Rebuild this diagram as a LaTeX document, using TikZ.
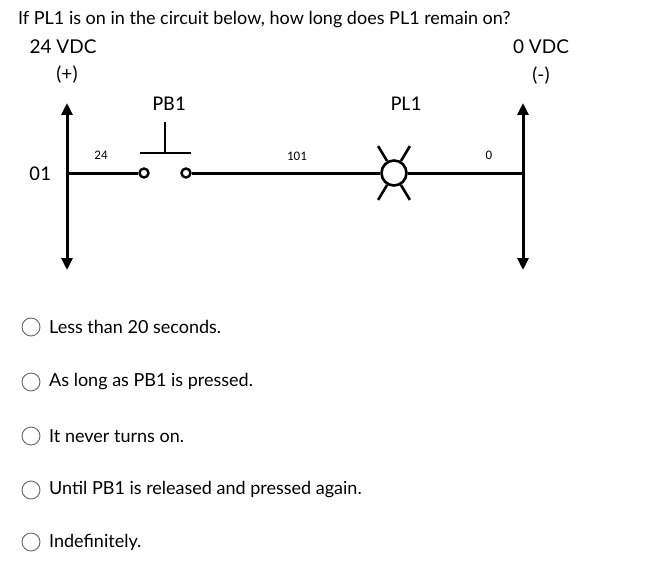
\documentclass[tikz,border=0pt]{standalone}
\usepackage{fontspec}
\usetikzlibrary{arrows.meta}
\setmainfont{Lato}
\newfontfamily\carfont{Carlito}
\tikzset{
 lbl/.style={font=\carfont\fontsize{21}{24}\selectfont, inner sep=0},
 hlbl/.style={font=\fontsize{19}{22}\selectfont, inner sep=0},
 wlbl/.style={font=\carfont\fontsize{13}{15}\selectfont, inner sep=0},
 txt/.style={font=\fontsize{18}{21}\selectfont, anchor=west, inner sep=0},
 radio/.style={circle, draw=black!60, line width=0.9pt, minimum size=18pt, inner sep=0},
 wire/.style={line width=3pt},
 rail/.style={line width=3pt, {Triangle[length=12pt,width=11pt]}-{Triangle[length=12pt,width=11pt]}},
 term/.style={circle, draw, line width=2.4pt, fill=white, minimum size=9pt, inner sep=0},
 sym/.style={line width=2.6pt},
}
\begin{document}
\begin{tikzpicture}[x=1pt,y=-1pt]
\useasboundingbox (0,0) rectangle (668,564);
\node[txt] (q) at (18,20) {If PL1 is on in the circuit below, how long does PL1 remain on?};
\node[hlbl] (v24) at (63,47) {24 VDC};
\node[hlbl] (pl) at (67,75) {(+)};
\node[hlbl] (v0) at (541,47) {0 VDC};
\node[hlbl] (mi) at (541,76) {(-)};
\coordinate (lt) at (67,103); \coordinate (lb) at (67,270);
\coordinate (rt) at (523,103); \coordinate (rb) at (523,270);
\draw[rail] (lb) -- (lt);
\draw[rail] (rb) -- (rt);
\coordinate (l) at (67,173); \coordinate (r) at (523,173);
\node[term] (s1) at (144,173) {};
\node[term] (s2) at (186,173) {};
\node[circle, draw, line width=2.6pt, minimum size=25pt, inner sep=0] (lamp) at (394,173) {};
\draw[wire] (l) -- (s1);
\draw[wire] (s2) -- (lamp);
\draw[wire] (lamp) -- (r);
\coordinate (bl) at (140,153); \coordinate (br) at (191,153);
\coordinate (pt) at (165,122); \coordinate (pm) at (165,153);
\draw[sym] (bl) -- (br);
\draw[sym] (pt) -- (pm);
\draw[sym] (lamp.60) -- ++(9,-15);
\draw[sym] (lamp.120) -- ++(-9,-15);
\draw[sym] (lamp.-60) -- ++(9,15);
\draw[sym] (lamp.-120) -- ++(-9,15);
\node[lbl] (pb) at (169,104) {PB1};
\node[lbl] (pln) at (406,104) {PL1};
\node[lbl] (n01) at (40,174) {01};
\node[wlbl] (w24) at (101,155) {24};
\node[wlbl] (w101) at (297,156) {101};
\node[wlbl] (w0) at (489,155) {0};
\foreach \y/\t [count=\i] in {327/Less than 20 seconds., 382/As long as PB1 is pressed., 436/It never turns on., 490/Until PB1 is released and pressed again., 542/Indefinitely.}{
  \node[radio] (r\i) at (31,\y) {};
  \node[txt] (t\i) at (49,\y) {\t};
}
\end{tikzpicture}
\end{document}
